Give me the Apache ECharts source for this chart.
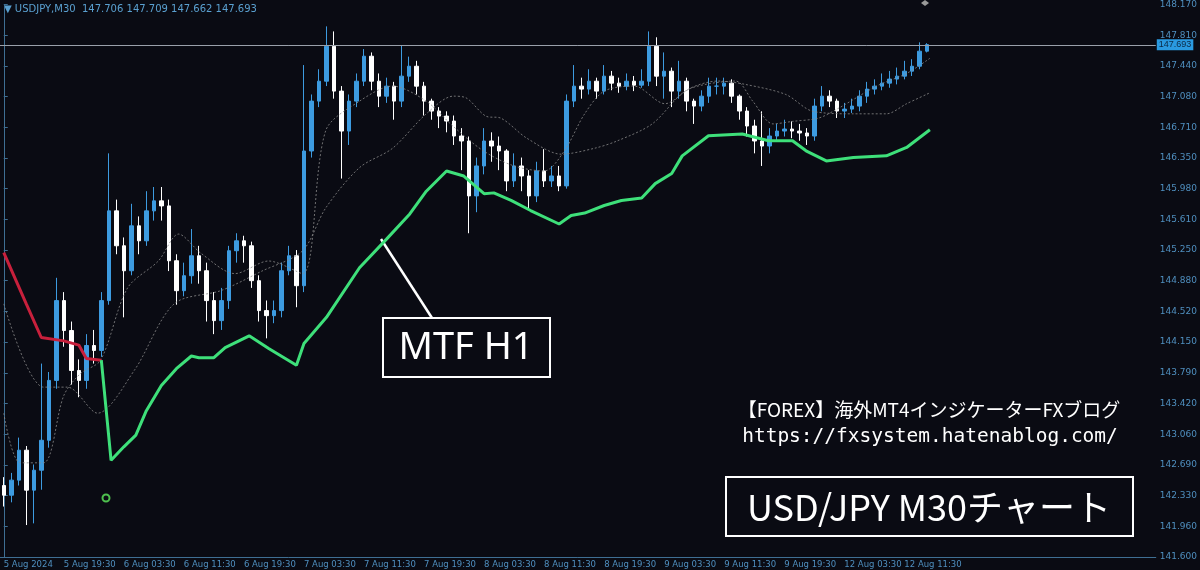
<!DOCTYPE html>
<html><head><meta charset="utf-8">
<script src="https://cdn.jsdelivr.net/npm/echarts@6/dist/echarts.min.js"></script>
<style>html,body{margin:0;padding:0;background:#0a0b13;}#c{width:1200px;height:570px;}</style>
</head><body><div id="c"></div>
<script>
const closes=[142.335,142.514,142.870,142.395,142.632,142.988,143.700,144.649,144.293,143.818,
143.700,144.115,144.056,144.649,145.716,145.301,145.004,145.538,145.360,145.716,
145.835,145.775,145.123,144.767,144.945,145.182,145.004,144.649,144.411,144.649,
145.242,145.360,145.301,144.886,144.530,144.470,144.530,145.004,145.182,144.826,
146.428,147.021,147.258,147.673,147.140,146.665,147.021,147.258,147.555,147.258,
147.080,147.199,147.021,147.318,147.436,147.199,147.021,146.903,146.843,146.784,
146.606,146.547,145.894,146.250,146.547,146.487,146.428,146.072,146.250,146.131,
145.894,146.191,146.072,146.131,146.013,147.021,147.199,147.164,147.258,147.140,
147.318,147.235,147.199,147.258,147.211,147.258,147.673,147.318,147.377,147.140,
147.258,147.021,146.962,147.080,147.199,147.199,147.235,147.080,146.903,146.725,
146.547,146.487,146.606,146.665,146.689,146.665,146.642,146.606,146.962,147.080,
147.021,146.903,146.926,146.962,147.080,147.164,147.199,147.235,147.283,147.318,
147.377,147.436,147.615,147.693];
const highs=[142.55,142.60,143.02,142.92,142.70,143.90,143.80,144.92,144.75,144.40,
143.95,144.25,144.30,144.75,146.40,145.85,145.40,145.80,145.65,145.95,
146.00,146.00,145.85,145.20,145.10,145.50,145.30,145.10,144.75,144.80,
145.30,145.45,145.42,145.35,144.95,144.65,144.65,145.10,145.30,145.25,
147.45,147.10,147.40,147.91,147.85,147.20,147.10,147.35,147.64,147.60,
147.35,147.30,147.25,147.68,147.55,147.50,147.25,147.05,146.95,146.90,
146.85,146.70,146.60,146.35,146.70,146.65,146.60,146.45,146.40,146.35,
146.20,146.30,146.45,146.25,146.25,147.10,147.45,147.30,147.40,147.30,
147.45,147.38,147.30,147.35,147.32,147.40,147.85,147.78,147.60,147.42,
147.50,147.30,147.05,147.15,147.30,147.30,147.30,147.28,147.10,146.95,
146.80,146.90,146.70,146.75,146.80,146.78,146.75,146.70,147.05,147.20,
147.15,147.05,147.00,147.05,147.15,147.25,147.28,147.35,147.38,147.42,
147.50,147.52,147.72,147.71];
const lows=[142.20,142.25,142.45,141.98,142.00,142.40,142.90,143.60,144.10,143.65,
143.50,143.60,143.90,143.98,144.60,145.20,144.45,144.95,145.20,145.30,
145.60,145.60,145.00,144.60,144.70,144.85,144.85,144.40,144.25,144.30,
144.55,145.10,145.10,144.80,144.40,144.20,144.38,144.45,144.95,144.57,
144.75,146.35,146.95,147.20,147.05,146.10,146.50,146.95,147.20,147.15,
146.95,147.00,146.80,146.95,147.25,147.10,146.85,146.80,146.70,146.65,
146.50,146.20,145.45,145.70,146.15,146.30,146.20,145.95,146.00,145.95,
145.75,145.82,146.00,146.00,145.95,145.98,146.95,147.05,147.10,147.05,
147.10,147.15,147.12,147.15,147.14,147.18,147.20,147.20,147.05,146.95,
147.05,146.90,146.75,146.90,147.00,147.10,147.10,147.00,146.80,146.60,
146.40,146.25,146.40,146.55,146.60,146.58,146.55,146.50,146.55,146.90,
146.95,146.82,146.82,146.88,146.90,147.00,147.10,147.15,147.18,147.22,
147.28,147.32,147.40,147.60];
const firstOpen=142.45;
const mtfRed=[[0,145.22],[3,144.61],[5,144.21],[8,144.17],[10,144.12],[11,143.96],[13,143.94]];
const mtfGreen=[[13,143.94],[14.3,142.75],[16,142.91],[17.6,143.05],[19,143.34],[21,143.64],[23,143.84],[25,143.99],[26,143.97],[28,143.97],[29.5,144.09],[32.7,144.23],[35.3,144.08],[39,143.88],[40,144.14],[43,144.45],[47.4,145.04],[51,145.38],[54.1,145.68],[56.3,145.95],[59,146.19],[61.3,146.13],[64,145.92],[65.3,145.93],[67.6,145.84],[70.2,145.72],[74,145.56],[75.6,145.66],[77.4,145.69],[80,145.78],[82.3,145.84],[85,145.87],[86.8,146.04],[89,146.16],[90.4,146.37],[93.9,146.61],[98.4,146.63],[101.9,146.55],[105.1,146.55],[106.9,146.43],[109.6,146.31],[113.2,146.35],[117.6,146.37],[120.3,146.47],[123.4,146.68]];
const maSlow=[[0,144.61],[5.3,143.62],[8.5,143.62],[12.5,143.31],[17.4,143.82],[22.7,144.61],[29,144.77],[34.4,145.00],[39.8,145.24],[42.9,145.75],[47.4,146.23],[51.8,146.46],[56.3,146.87],[59.9,147.08],[61.6,147.06],[64.3,146.84],[66.2,146.82],[69.7,146.58],[74.3,146.39],[78.7,146.46],[81.8,146.55],[86.4,146.75],[90.8,147.14],[95.2,147.26],[98.8,147.22],[104.2,147.10],[107.8,146.90],[113.2,146.87],[117.6,146.87],[120.3,146.99],[123.4,147.12]];
const maFast=[[0,143.31],[2.2,142.72],[5.3,142.72],[8,143.52],[10.2,143.78],[12.9,143.94],[16.5,144.80],[20.6,145.12],[23.3,145.44],[26.3,145.21],[30.8,144.97],[35.3,145.12],[39.8,144.97],[42.9,146.67],[47.4,147.02],[51.8,147.20],[56.3,147.02],[59.9,146.72],[63.9,146.43],[68,146.25],[72,146.19],[74.7,146.43],[77.4,146.87],[80,147.14],[84,147.20],[88.1,146.99],[91.7,147.18],[97.5,147.26],[99.8,147.02],[102.5,146.75],[105.1,146.78],[108.6,146.82],[111.3,146.94],[116.3,147.20],[120.3,147.35],[123.4,147.53]];
const xTickLabels=['5 Aug 2024','5 Aug 19:30','6 Aug 03:30','6 Aug 11:30','6 Aug 19:30','7 Aug 03:30','7 Aug 11:30','7 Aug 19:30','8 Aug 03:30','8 Aug 11:30','8 Aug 19:30','9 Aug 03:30','9 Aug 11:30','9 Aug 19:30','12 Aug 03:30','12 Aug 11:30'];
const yTickLabels=['141.600','141.960','142.330','142.690','143.060','143.420','143.790','144.150','144.520','144.880','145.250','145.610','145.980','146.350','146.710','147.080','147.440','147.810','148.170'];
const nSlots=154;
const lastPrice=147.693;

const cats=[];for(let i=0;i<nSlots;i++)cats.push(i);
const ohlc=closes.map((c,i)=>[i===0?firstOpen:closes[i-1],c,lows[i],highs[i]]);
const axisCol='#3f6f93', labCol='#4f8fbf';
const chart=echarts.init(document.getElementById('c'));
chart.setOption({
 backgroundColor:'#0a0b13',animation:false,
 grid:{left:0,right:42,top:3,bottom:13},
 xAxis:[{type:'category',data:cats,boundaryGap:true,position:'bottom',
   axisLine:{lineStyle:{color:axisCol}},
   axisTick:{interval:(i)=>i%8===0,length:4,lineStyle:{color:axisCol},alignWithLabel:true},
   axisLabel:{interval:(i)=>i%8===0,formatter:(v,i)=>xTickLabels[i/8]||'',color:labCol,fontSize:8.5,margin:3,align:'left',fontFamily:'DejaVu Sans'},
   splitLine:{show:false}},
  {type:'value',min:-0.5,max:nSlots-0.5,show:false}],
 yAxis:{type:'value',position:'right',min:141.6,max:148.17,interval:0.365,scale:true,
   axisLine:{show:true,lineStyle:{color:axisCol}},
   axisTick:{show:true,length:4,lineStyle:{color:axisCol}},
   axisLabel:{color:labCol,fontSize:9,margin:4,fontFamily:'DejaVu Sans',
     formatter:(v)=>{let k=Math.round((v-141.6)/0.365);return yTickLabels[k]||'';}},
   splitLine:{show:false}},
 series:[
  {type:'candlestick',data:ohlc,barWidth:4,
   itemStyle:{color:'#3d9be0',color0:'#ffffff',borderColor:'#3d9be0',borderColor0:'#ffffff',borderWidth:1},
   markLine:{symbol:'none',silent:true,data:[{yAxis:lastPrice}],
     lineStyle:{color:'#9aa0aa',type:'solid',width:1},
     label:{position:'end',formatter:'147.693',color:'#0b2a45',backgroundColor:'#2a9ae0',padding:[1,2],fontSize:9,distance:1}}},
  {type:'line',xAxisIndex:1,data:maSlow,showSymbol:false,smooth:0.3,lineStyle:{color:'#8a8a8a',type:[2,2],width:0.8}},
  {type:'line',xAxisIndex:1,data:maFast,showSymbol:false,smooth:0.3,lineStyle:{color:'#8a8a8a',type:[2,2],width:0.8}},
  {type:'line',xAxisIndex:1,data:mtfRed,showSymbol:false,lineStyle:{color:'#c8203c',width:3}},
  {type:'line',xAxisIndex:1,data:mtfGreen,showSymbol:false,lineStyle:{color:'#3ee07a',width:3}}
 ],
 graphic:[
  {type:'text',left:4,top:4,style:{text:'▼ USDJPY,M30  147.706 147.709 147.662 147.693',fill:'#5aa0d0',font:'10px DejaVu Sans'}},
  {type:'line',shape:{x1:381,y1:239,x2:432,y2:318},style:{stroke:'#ffffff',lineWidth:2.5}},
  {type:'rect',shape:{x:383,y:318,width:167,height:59},style:{fill:'#0a0b13',stroke:'#ffffff',lineWidth:2}},
  {type:'text',x:466,y:348,style:{text:'MTF H1',fill:'#ffffff',font:'38px "Noto Sans"',align:'center',verticalAlign:'middle'}},
  {type:'text',x:929,y:410,style:{text:'【FOREX】海外MT4インジケーターFXブログ',fill:'#ffffff',font:'19px "Noto Sans CJK JP"',align:'center',verticalAlign:'middle'}},
  {type:'text',x:930,y:437,style:{text:'https://fxsystem.hatenablog.com/',fill:'#ffffff',font:'19.5px "DejaVu Sans Mono"',align:'center',verticalAlign:'middle'}},
  {type:'rect',shape:{x:726,y:477,width:407,height:59},style:{fill:'#0a0b13',stroke:'#ffffff',lineWidth:2}},
  {type:'text',x:929,y:507,style:{text:'USD/JPY M30チャート',fill:'#ffffff',font:'36px "Noto Sans CJK JP"',align:'center',verticalAlign:'middle'}},
  {type:'circle',shape:{cx:106,cy:498,r:3.5},style:{fill:'none',stroke:'#4ec04e',lineWidth:2}},
  {type:'polygon',shape:{points:[[925,0],[929,3],[925,6],[921,3]]},style:{fill:'#9a9a9a'}}
 ]
});
</script></body></html>
